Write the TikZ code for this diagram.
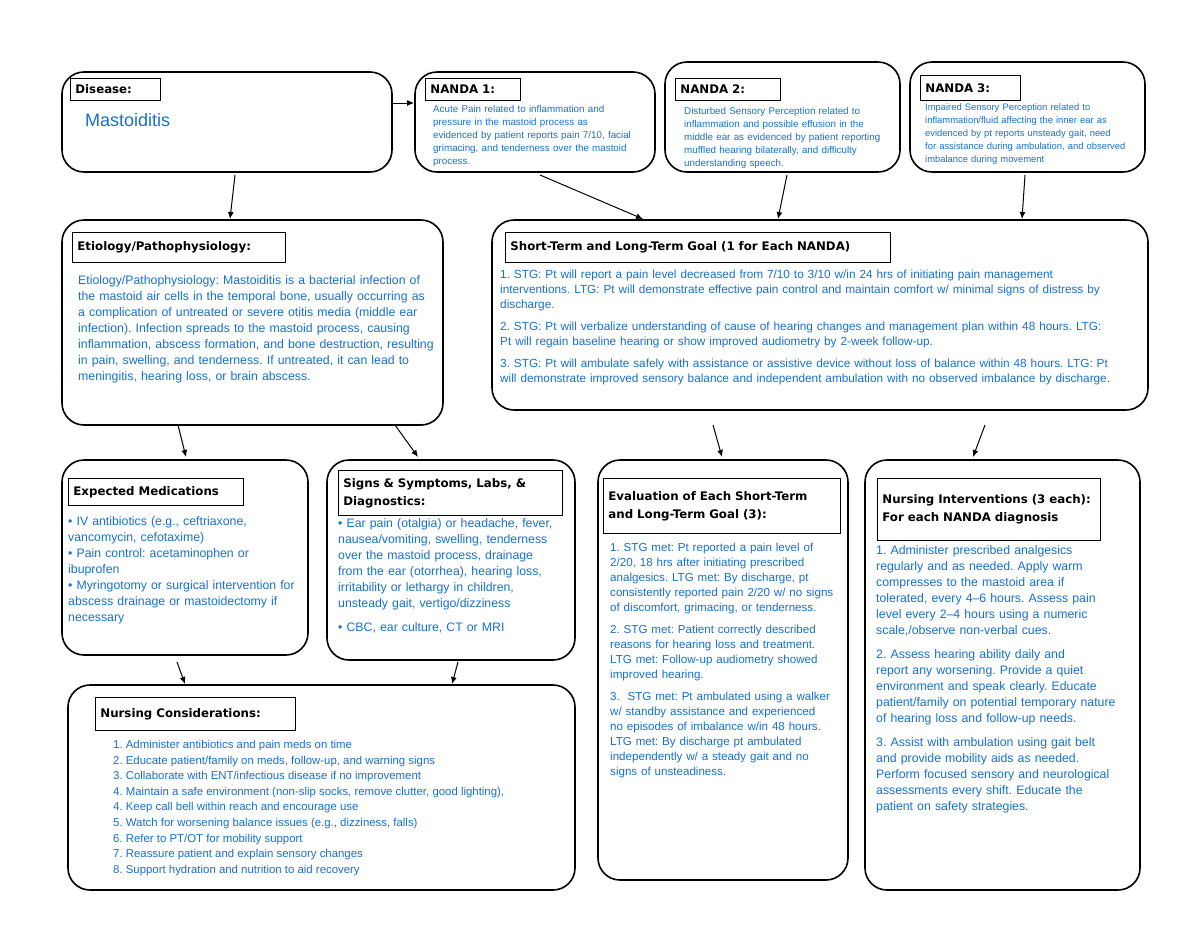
\documentclass[tikz,border=0pt]{standalone}
\usepackage{fontspec}
\usetikzlibrary{arrows.meta}
\setmainfont{Liberation Sans}
\newfontfamily\lblfont{DejaVu Sans}
\definecolor{txtblue}{RGB}{22,112,205}
\newcommand{\fs}[2]{\fontsize{#1}{#2}\selectfont}
\hyphenpenalty=10000 \exhyphenpenalty=10000
\frenchspacing
\begin{document}
\begin{tikzpicture}[x=1pt,y=-1pt,
  box/.style={draw,line width=1.6pt,rounded corners=22pt},
  lbl/.style={draw,line width=0.8pt,anchor=north west,font=\lblfont\bfseries\fs{11.8}{18},align=left,inner sep=5pt},
  body/.style={anchor=north west,text=txtblue,align=left,inner sep=0pt},
  arr/.style={-{Latex[length=7pt,width=6pt]},line width=1pt}]
\useasboundingbox (0,0) rectangle (1200,927);
% boxes
\draw[box] (62,72) rectangle (392,172);
\draw[box] (415,72) rectangle (655,172);
\draw[box] (665,62) rectangle (900,172);
\draw[box] (910,62) rectangle (1145,172);
\draw[box] (62,220) rectangle (443,425);
\draw[box] (492,220) rectangle (1148,410);
\draw[box] (62,460) rectangle (308,655);
\draw[box] (327,460) rectangle (575,660);
\draw[box] (598,460) rectangle (848,880);
\draw[box] (865,460) rectangle (1140,890);
\draw[box] (68,685) rectangle (575,890);
% labels
\node[lbl,text width=80pt,minimum height=22pt] (l0) at (70,78) {Disease:};
\node[body,font=\fs{18}{20}] (t0) at (85,113) {Mastoiditis};
\node[lbl,text width=85pt,minimum height=22pt] (l1) at (425,78) {NANDA 1:};
\node[body,font=\fs{9.8}{13},text width=202pt] (t1) at (433,105) {Acute Pain related to inflammation and pressure in the mastoid process as evidenced by patient reports pain 7/10, facial grimacing, and tenderness over the mastoid process.};
\node[lbl,text width=95pt,minimum height=22pt] (l2) at (675,78) {NANDA 2:};
\node[body,font=\fs{9.8}{13},text width=207pt] (t2) at (684,107) {Disturbed Sensory Perception related to inflammation and possible effusion in the middle ear as evidenced by patient reporting muffled hearing bilaterally, and difficulty understanding speech.};
\node[lbl,text width=90pt,minimum height=25pt] (l3) at (920,75) {NANDA 3:};
\node[body,font=\fs{9.4}{13},text width=210pt] (t3) at (925,103) {Impaired Sensory Perception related to inflammation/fluid affecting the inner ear as evidenced by pt reports unsteady gait, need for assistance during ambulation, and observed imbalance during movement};
\node[lbl,text width=203pt,minimum height=30pt] (l4) at (72,232) {Etiology/Pathophysiology:};
\node[body,font=\fs{12.3}{16},text width=362pt] (t4) at (78,275) {Etiology/Pathophysiology: Mastoiditis is a bacterial infection of the mastoid air cells in the temporal bone, usually occurring as a complication of untreated or severe otitis media (middle ear infection). Infection spreads to the mastoid process, causing inflammation, abscess formation, and bone destruction, resulting in pain, swelling, and tenderness. If untreated, it can lead to meningitis, hearing loss, or brain abscess.};
\node[lbl,text width=375pt,minimum height=30pt] (l5) at (505,232) {Short-Term and Long-Term Goal (1 for Each NANDA)};
\node[body,font=\fs{11.8}{15},text width=615pt] (t5) at (500,270) {1. STG: Pt will report a pain level decreased from 7/10 to 3/10 w/in 24 hrs of initiating pain management interventions. LTG: Pt will demonstrate effective pain control and maintain comfort w/ minimal signs of distress by discharge.\\[7pt]
2. STG: Pt will verbalize understanding of cause of hearing changes and management plan within 48 hours. LTG: Pt will regain baseline hearing or show improved audiometry by 2-week follow-up.\\[7pt]
3. STG: Pt will ambulate safely with assistance or assistive device without loss of balance within 48 hours. LTG: Pt will demonstrate improved sensory balance and independent ambulation with no observed imbalance by discharge.};
\node[lbl,text width=165pt,minimum height=27pt] (l6) at (68,478) {Expected Medications};
\node[body,font=\fs{12.3}{16},text width=228pt] (t6) at (68,516) {• IV antibiotics (e.g., ceftriaxone, vancomycin, cefotaxime)\\• Pain control: acetaminophen or ibuprofen\\• Myringotomy or surgical intervention for abscess drainage or mastoidectomy if necessary};
\node[lbl,minimum height=45pt,text width=214pt] (l7) at (338,470) {Signs \& Symptoms, Labs, \& Diagnostics:};
\node[body,font=\fs{12.3}{16},text width=224pt] (t7) at (338,518) {• Ear pain (otalgia) or headache, fever, nausea/vomiting, swelling, tenderness over the mastoid process, drainage from the ear (otorrhea), hearing loss, irritability or lethargy in children, unsteady gait, vertigo/dizziness\\[8pt]• CBC, ear culture, CT or MRI};
\node[lbl,minimum height=55pt,text width=227pt] (l8) at (603,478) {Evaluation of Each Short-Term and Long-Term Goal (3):};
\node[body,font=\fs{11.6}{15},text width=224pt] (t8) at (610,543) {1. STG met: Pt reported a pain level of 2/20, 18 hrs after initiating prescribed analgesics. LTG met: By discharge, pt consistently reported pain 2/20 w/ no signs of discomfort, grimacing, or tenderness.\\[7pt]
2. STG met: Patient correctly described reasons for hearing loss and treatment. LTG met: Follow-up audiometry showed improved hearing.\\[7pt]
3.\ \ STG met: Pt ambulated using a walker w/ standby assistance and experienced no episodes of imbalance w/in 48 hours. LTG met: By discharge pt ambulated independently w/ a steady gait and no signs of unsteadiness.};
\node[lbl,minimum height=62pt,text width=213pt] (l9) at (877,478) {Nursing Interventions (3 each): For each NANDA diagnosis};
\node[body,font=\fs{12.3}{16},text width=242pt] (t9) at (876,545) {1. Administer prescribed analgesics regularly and as needed. Apply warm compresses to the mastoid area if tolerated, every 4--6 hours. Assess pain level every 2--4 hours using a numeric scale,/observe non-verbal cues.\\[8pt]
2. Assess hearing ability daily and report any worsening. Provide a quiet environment and speak clearly. Educate patient/family on potential temporary nature of hearing loss and follow-up needs.\\[8pt]
3. Assist with ambulation using gait belt and provide mobility aids as needed. Perform focused sensory and neurological assessments every shift. Educate the patient on safety strategies.};
\node[lbl,text width=190pt,minimum height=33pt] (l10) at (95,697) {Nursing Considerations:};
\node[body,font=\fs{11.4}{15.6}] (t10) at (113,740) {1. Administer antibiotics and pain meds on time\\2. Educate patient/family on meds, follow-up, and warning signs\\3. Collaborate with ENT/infectious disease if no improvement\\4. Maintain a safe environment (non-slip socks, remove clutter, good lighting),\\4. Keep call bell within reach and encourage use\\5. Watch for worsening balance issues (e.g., dizziness, falls)\\6. Refer to PT/OT for mobility support\\7. Reassure patient and explain sensory changes\\8. Support hydration and nutrition to aid recovery};
% connectors
\coordinate (a1) at (393,103); \coordinate (b1) at (414,103);
\coordinate (a2) at (235,175); \coordinate (b2) at (230,219);
\coordinate (a3) at (540,175); \coordinate (b3) at (643,219);
\coordinate (a4) at (787,175); \coordinate (b4) at (778,219);
\coordinate (a5) at (1025,175); \coordinate (b5) at (1022,219);
\coordinate (a6) at (178,425); \coordinate (b6) at (186,457);
\coordinate (a7) at (395,425); \coordinate (b7) at (418,457);
\coordinate (a8) at (713,425); \coordinate (b8) at (722,457);
\coordinate (a9) at (985,425); \coordinate (b9) at (973,457);
\coordinate (a10) at (177,662); \coordinate (b10) at (185,684);
\coordinate (a11) at (458,662); \coordinate (b11) at (452,684);
\foreach \i in {1,...,11} \draw[arr] (a\i) -- (b\i);
\end{tikzpicture}
\end{document}
